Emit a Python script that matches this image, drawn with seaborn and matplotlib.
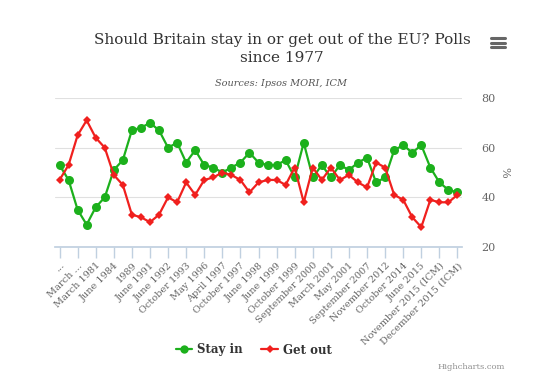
import numpy as np
import pandas as pd
import matplotlib.pyplot as plt
import seaborn as sns
from matplotlib.lines import Line2D

# Dados (45 pesquisas, rótulo a cada duas)
rotulos = [
    "...", "March ...", "March 1981", "June 1984", "1989", "June 1991",
    "June 1992", "October 1993", "May 1996", "April 1997", "October 1997",
    "June 1998", "June 1999", "October 1999", "September 2000", "March 2001",
    "May 2001", "September 2007", "November 2012", "October 2014", "June 2015",
    "November 2015 (ICM)", "December 2015 (ICM)",
]
stay_in = [53, 47, 35, 29, 36, 40, 51, 55, 67, 68, 70, 67, 60, 62, 54, 59,
           53, 52, 50, 52, 54, 58, 54, 53, 53, 55, 48, 62, 48, 53, 48, 53,
           51, 54, 56, 46, 48, 59, 61, 58, 61, 52, 46, 43, 42]
get_out = [47, 53, 65, 71, 64, 60, 49, 45, 33, 32, 30, 33, 40, 38, 46, 41,
           47, 48, 50, 49, 47, 42, 46, 47, 47, 45, 52, 38, 52, 47, 52, 47,
           49, 46, 44, 54, 52, 41, 39, 32, 28, 39, 38, 38, 41]

VERDE = "#1cb01c"
VERMELHO = "#f0201e"

df = pd.DataFrame({"i": np.arange(len(stay_in)), "Stay in": stay_in, "Get out": get_out})

sns.set_theme(style="white")
plt.rcParams["font.family"] = ["DejaVu Serif"]

fig = plt.figure(figsize=(5.51, 3.89), dpi=100)
ax = fig.add_axes([55 / 551, 1 - 247 / 389, 407 / 551, 149 / 389])

sns.lineplot(data=df, x="i", y="Stay in", color=VERDE, marker="o", markersize=6.5,
             markeredgewidth=0, linewidth=1.6, ax=ax)
sns.lineplot(data=df, x="i", y="Get out", color=VERMELHO, marker="D", markersize=4.5,
             markeredgewidth=0, linewidth=1.6, ax=ax)

ax.set_xlim(-0.5, len(stay_in) - 0.5)
ax.set_ylim(20, 80)
ax.set_yticks([20, 40, 60, 80])
ax.yaxis.tick_right()
ax.tick_params(axis="y", length=0, pad=14, labelsize=8, labelcolor="#666666")
ax.grid(axis="y", color="#e0e0e0", linewidth=0.8)
ax.set_axisbelow(True)

ax.set_xticks(np.arange(0, len(stay_in), 2))
ax.set_xticklabels(rotulos, rotation=45, ha="right", rotation_mode="anchor",
                   fontsize=7, color="#666666")
ax.tick_params(axis="x", length=8, color="#c0d0e0", width=1, direction="out",
               bottom=True, pad=2)

for lado in ["top", "left", "right"]:
    ax.spines[lado].set_visible(False)
ax.spines["bottom"].set_color("#c0d0e0")
ax.set_xlabel("")
ax.set_ylabel("%", rotation=270, fontsize=8, color="#666666", labelpad=10)
ax.yaxis.set_label_position("right")

fig.text(0.512, 1 - 49 / 389, "Should Britain stay in or get out of the EU? Polls\nsince 1977",
         ha="center", va="center", fontsize=11, color="#333333", linespacing=1.3)
fig.text(0.51, 1 - 83 / 389, "Sources: Ipsos MORI, ICM", ha="center", va="center",
         fontsize=7, style="italic", color="#555555")

# ícone de menu
for yy in [38, 42.5, 47]:
    fig.add_artist(Line2D([491 / 551, 505 / 551], [1 - yy / 389] * 2, color="#666666",
                          linewidth=2.2, transform=fig.transFigure))

handles = [
    Line2D([], [], color=VERDE, marker="o", markersize=6, markeredgewidth=0, linewidth=1.6),
    Line2D([], [], color=VERMELHO, marker="D", markersize=4.5, markeredgewidth=0, linewidth=1.6),
]
fig.legend(handles, ["Stay in", "Get out"], loc="center", bbox_to_anchor=(0.46, 1 - 350 / 389),
           ncol=2, frameon=False, prop={"weight": "bold", "size": 8.5}, handlelength=1.4,
           handletextpad=0.4, columnspacing=1.6, labelcolor="#333333")

fig.text(505 / 551, 1 - 367 / 389, "Highcharts.com", ha="right", va="center",
         fontsize=6, color="#909090")

fig.savefig("out.png", dpi=100, facecolor="white")
